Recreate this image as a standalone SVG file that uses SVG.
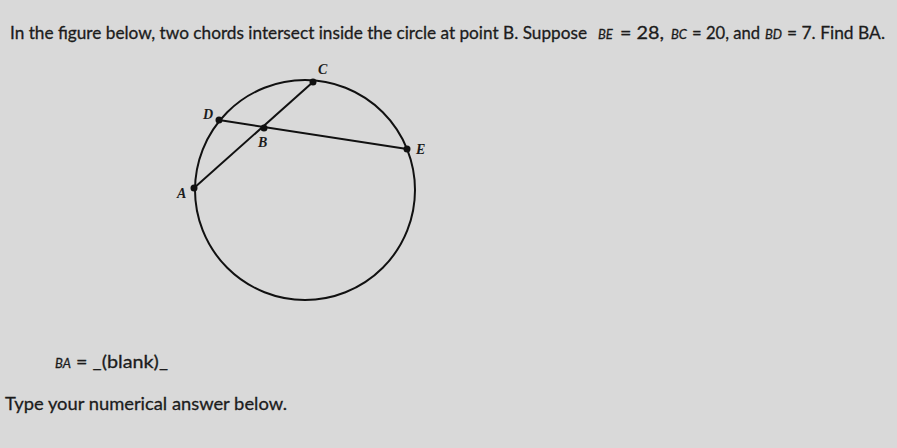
<svg xmlns="http://www.w3.org/2000/svg" width="897" height="448" viewBox="0 0 897 448">
<style>
.t{font-family:Lato,"Open Sans","Liberation Sans",sans-serif;fill:#1c1c1c;font-size:18px;stroke:#1c1c1c;stroke-width:0.3}
.i{font-style:italic;font-size:13px}
.lbl{font-family:"Liberation Serif",serif;font-style:italic;font-weight:bold;font-size:14px;fill:#1c1c1c}
.ln{stroke:#111;stroke-width:2;fill:none}
.pt{fill:#111}
</style>
<rect width="897" height="448" fill="#d9d9d9"/>
<g id="title">
<text class="t" y="39"><tspan x="10" font-size="17" textLength="577" lengthAdjust="spacingAndGlyphs">In the figure below, two chords intersect inside the circle at point B. Suppose</tspan><tspan class="i" x="598">BE</tspan><tspan x="620" textLength="44" lengthAdjust="spacingAndGlyphs">= 28,</tspan><tspan class="i" x="671">BC</tspan><tspan x="692" textLength="68" lengthAdjust="spacingAndGlyphs">= 20, and</tspan><tspan class="i" x="765">BD</tspan><tspan x="787" textLength="98" lengthAdjust="spacingAndGlyphs">= 7. Find BA.</tspan></text>
</g>
<g id="circle"><circle class="ln" cx="305" cy="190" r="110"/></g>
<g id="connectors">
<line class="ln" x1="194" y1="188" x2="313" y2="82"/>
<line class="ln" x1="219" y1="120" x2="407" y2="149"/>
</g>
<g id="A"><circle class="pt" cx="194" cy="188" r="3.5"/><text class="lbl" x="177" y="198">A</text></g>
<g id="B"><circle class="pt" cx="264" cy="128" r="3.5"/><text class="lbl" x="258" y="147">B</text></g>
<g id="C"><circle class="pt" cx="313" cy="82" r="3.5"/><text class="lbl" x="318" y="74">C</text></g>
<g id="D"><circle class="pt" cx="219" cy="120" r="3.5"/><text class="lbl" x="203" y="119">D</text></g>
<g id="E"><circle class="pt" cx="407" cy="149" r="3.5"/><text class="lbl" x="416" y="154">E</text></g>
<g id="answer">
<text class="t" x="55" y="368"><tspan class="i">BA</tspan><tspan x="76" textLength="92" lengthAdjust="spacingAndGlyphs">= _(blank)_</tspan></text>
<text class="t" x="5" y="410" textLength="282" lengthAdjust="spacingAndGlyphs">Type your numerical answer below.</text>
</g>
</svg>
